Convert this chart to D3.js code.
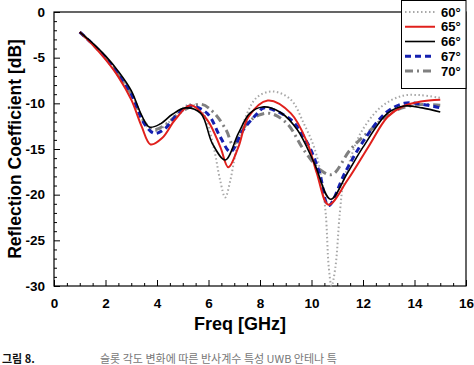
<!DOCTYPE html>
<html><head><meta charset="utf-8">
<script src="https://cdn.jsdelivr.net/npm/d3@7"></script>
<style>body{margin:0;background:#fff;}svg{display:block;}</style>
</head><body>
<script>
// ---- data ----
const seriesNames = ["60°", "65°", "66°", "67°", "70°"];
const s60 = [[1,-2.2],[1.5,-3.5],[2,-5.0],[2.5,-6.8],[3,-8.9],[3.5,-12.0],[3.8,-13.1],[4.3,-12.5],[4.8,-11.0],[5.3,-10.1],[5.8,-11.1],[6.2,-14.8],[6.45,-18.4],[6.65,-20.3],[6.85,-18.4],[7.1,-14.8],[7.5,-11.1],[7.9,-9.3],[8.5,-8.7],[9.2,-9.6],[9.7,-12.2],[10.1,-14.8],[10.35,-17.6],[10.55,-22],[10.67,-27.9],[10.78,-30],[10.93,-27.9],[11.1,-22],[11.25,-18.4],[11.45,-16.6],[11.9,-13.3],[12.7,-10.4],[13.5,-9.2],[14.2,-9.1],[15,-9.4]];
const s65 = [[1,-2.2],[1.5,-3.6],[2,-5.2],[2.5,-7.1],[3,-9.6],[3.4,-12.5],[3.75,-14.5],[4.2,-13.8],[4.7,-11.8],[5.3,-10.2],[5.95,-11.8],[6.46,-14.8],[6.77,-17.0],[7.16,-14.8],[7.55,-11.5],[8.3,-9.7],[9.2,-11.1],[9.85,-14.4],[10.2,-17.6],[10.66,-21.1],[11.4,-18.4],[12.2,-14.8],[12.95,-11.5],[13.5,-10.4],[14.25,-9.8],[15,-9.6]];
const s66 = [[1,-2.2],[1.5,-3.4],[2,-4.8],[2.5,-6.5],[3,-8.6],[3.4,-11.3],[3.7,-12.6],[4.1,-12.3],[4.6,-11.2],[5.1,-10.5],[5.7,-11.1],[6.15,-14.4],[6.65,-16.2],[7.16,-13.3],[7.6,-11.1],[8.1,-10.4],[8.8,-11.0],[9.45,-12.9],[10.1,-16.5],[10.74,-20.5],[11.4,-17.6],[12.0,-14.8],[12.95,-11.1],[13.6,-10.3],[14.3,-10.5],[15,-10.95]];
const s67 = [[1,-2.2],[1.5,-3.5],[2,-5.0],[2.5,-6.9],[3,-9.0],[3.5,-12.2],[3.9,-13.3],[4.3,-12.8],[4.8,-11.2],[5.3,-10.3],[5.95,-11.1],[6.46,-13.7],[6.85,-15.3],[7.35,-12.9],[7.9,-11.1],[8.15,-10.5],[9.2,-11.8],[9.85,-14.4],[10.3,-17.5],[10.66,-21.2],[11.3,-17.6],[12.0,-14.2],[12.9,-11.0],[13.6,-10.0],[14.3,-10.1],[15,-10.5]];
const s70 = [[1,-2.2],[1.5,-3.5],[2,-5.0],[2.5,-6.9],[3,-9.0],[3.5,-12.0],[3.85,-12.9],[4.3,-12.4],[4.9,-11.0],[5.7,-10.1],[6.2,-11.0],[6.7,-13.0],[6.95,-14.5],[7.5,-12.2],[7.95,-11.3],[8.4,-11.1],[9.05,-12.2],[9.7,-15.1],[10.35,-17.3],[10.8,-17.8],[11.5,-15.1],[12.3,-12.9],[13.1,-11.0],[14,-10.2],[15,-10.2]];
const seriesData = [s60, s65, s66, s67, s70];
const xTicks = [0,2,4,6,8,10,12,14,16];
const yTicks = [0,-5,-10,-15,-20,-25,-30];
const xLabel = "Freq [GHz]";
const yLabel = "Reflection Coefficient [dB]";
const caption1 = "그림 8.";
const caption2 = "슬롯 각도 변화에 따른 반사계수 특성 UWB 안테나 특";

// ---- styles ----
const styles = [
  {color:"#a8a8a8", width:2, dash:"1.5,2.5"},
  {color:"#e0201c", width:2, dash:null},
  {color:"#000000", width:1.6, dash:null},
  {color:"#1520b0", width:3, dash:"6,4"},
  {color:"#808080", width:3, dash:"8,4,2,4"}
];

const W=474, H=365;
const svg = d3.select("body").append("svg").attr("width",W).attr("height",H);
const L=54, R=466, T=12, B=286;
const x = d3.scaleLinear().domain([0,16]).range([L,R]);
const y = d3.scaleLinear().domain([-30,0]).range([B,T]);
const font = "'Liberation Sans', Arial, sans-serif";
const fmt = d => String(d);

// frame
svg.append("rect").attr("x",L).attr("y",T).attr("width",R-L).attr("height",B-T)
  .attr("fill","none").attr("stroke","#000").attr("stroke-width",1.2);

// x axis
const xAxis = d3.axisBottom(x).tickValues(xTicks).tickSize(-6).tickPadding(12).tickFormat(fmt);
const gx = svg.append("g").attr("transform",`translate(0,${B})`).call(xAxis);
gx.select(".domain").remove();
gx.selectAll("text").attr("font-family",font).attr("font-weight","bold").attr("font-size",13.5).attr("fill","#000");
const xMinor = d3.axisBottom(x).tickValues(d3.range(0,16.01,0.5).filter(v=>v%2!==0)).tickSize(-3).tickFormat("");
const gxm = svg.append("g").attr("transform",`translate(0,${B})`).call(xMinor);
gxm.select(".domain").remove();

// y axis
const yAxis = d3.axisLeft(y).tickValues(yTicks).tickSize(-6).tickPadding(9).tickFormat(fmt);
const gy = svg.append("g").attr("transform",`translate(${L},0)`).call(yAxis);
gy.select(".domain").remove();
gy.selectAll("text").attr("font-family",font).attr("font-weight","bold").attr("font-size",13.5).attr("fill","#000");
const yMinor = d3.axisLeft(y).tickValues(d3.range(-30,0.01,1).filter(v=>v%5!==0)).tickSize(-3).tickFormat("");
const gym = svg.append("g").attr("transform",`translate(${L},0)`).call(yMinor);
gym.select(".domain").remove();

// lines
const line = d3.line().x(d=>x(d[0])).y(d=>y(d[1])).curve(d3.curveCatmullRom.alpha(0.5));
const order = [0,4,3,1,2];
order.forEach(i=>{
  const p = svg.append("path").datum(seriesData[i]).attr("d",line)
    .attr("fill","none").attr("stroke",styles[i].color).attr("stroke-width",styles[i].width)
    .attr("stroke-linejoin","round");
  if(styles[i].dash) p.attr("stroke-dasharray",styles[i].dash);
});

// legend
const lg = svg.append("g");
lg.append("rect").attr("x",401.5).attr("y",0.5).attr("width",R-401.5).attr("height",88)
  .attr("fill","#fff").attr("stroke","#000").attr("stroke-width",1);
const legendY = d3.scalePoint().domain(seriesNames).range([12,71]);
seriesNames.forEach((n,i)=>{
  const yy = legendY(n);
  const l = lg.append("line").attr("x1",405).attr("x2",435).attr("y1",yy).attr("y2",yy)
    .attr("stroke",styles[i].color).attr("stroke-width",styles[i].width);
  if(styles[i].dash) l.attr("stroke-dasharray",styles[i].dash);
  lg.append("text").attr("x",441).attr("y",yy+4.5).text(n)
    .attr("font-family",font).attr("font-weight","bold").attr("font-size",13);
});

// axis titles
svg.append("text").attr("x",(L+R)/2-20).attr("y",330).attr("text-anchor","middle")
  .attr("font-family",font).attr("font-weight","bold").attr("font-size",18).text(xLabel);
svg.append("text").attr("transform",`translate(21,${(T+B)/2}) rotate(-90)`).attr("text-anchor","middle")
  .attr("font-family",font).attr("font-weight","bold").attr("font-size",17.5).text(yLabel);

// caption (bottom strip)
svg.append("text").attr("x",2).attr("y",363).attr("font-family","'Noto Sans CJK KR', sans-serif")
  .attr("font-weight","bold").attr("font-size",11).attr("fill","#111").text(caption1);
svg.append("text").attr("x",100).attr("y",363).attr("font-family","'Noto Sans CJK KR', sans-serif")
  .attr("font-size",11).attr("fill","#777").text(caption2);
</script>
</body></html>
